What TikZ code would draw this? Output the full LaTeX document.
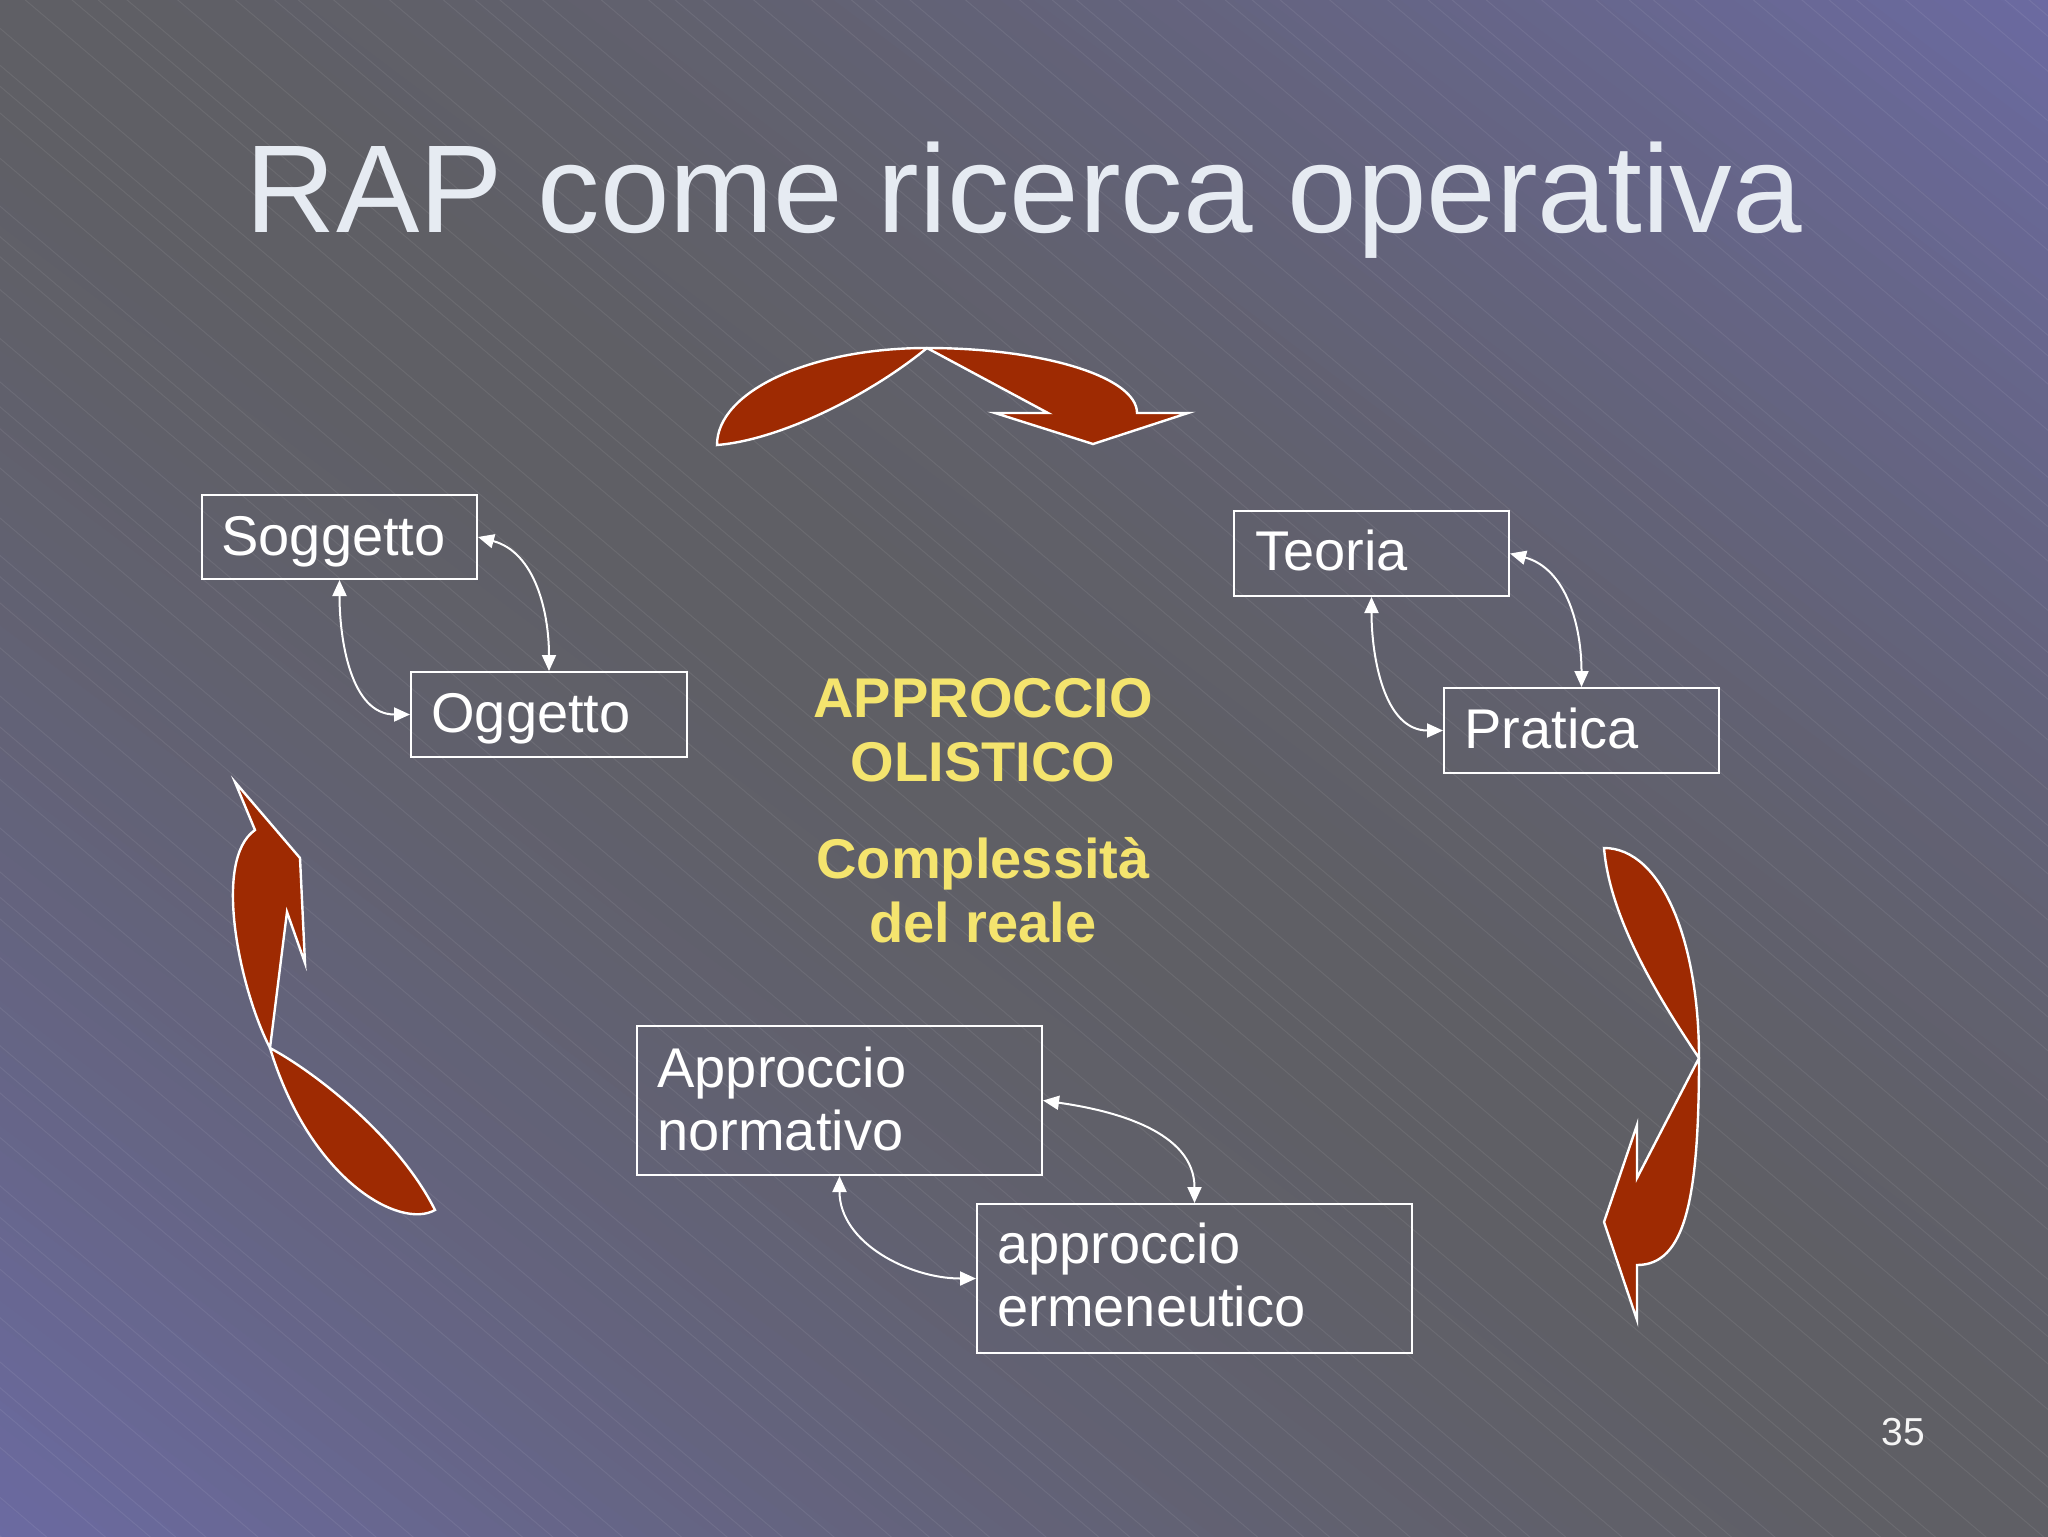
\documentclass[tikz,border=0pt]{standalone}
\usepackage{fontspec}
\setmainfont{Liberation Sans}
\usetikzlibrary{arrows.meta}
\definecolor{bggray}{HTML}{5F5F65}
\definecolor{bgpurple}{HTML}{6B6AA2}
\definecolor{arrowred}{HTML}{9E2A02}
\definecolor{titlecol}{HTML}{E6EBF2}
\definecolor{olicol}{HTML}{F4E46E}
\tikzset{
  boxnode/.style={draw=white, line width=1pt, inner sep=0pt, anchor=north west},
  boxtext/.style={text=white, inner sep=0pt, anchor=base west, font=\fontsize{28}{31.5}\selectfont},
  olitext/.style={text=olicol, inner sep=0pt, anchor=base, font=\bfseries\fontsize{28}{32}\selectfont},
  conn/.style={draw=white, line width=1pt, {Triangle[length=8pt,width=7pt]}-{Triangle[length=8pt,width=7pt]}},
  bigarrow/.style={fill=arrowred, draw=white, line width=1.2pt, line join=miter},
  bgline/.style={draw=white, opacity=0.07, line width=0.5pt},
}
\begin{document}
\begin{tikzpicture}[x=0.5pt, y=-0.5pt]
\useasboundingbox (0,0) rectangle (2048,1536);
% background gradient (diagonal)
\begin{scope}
\clip (0,0) rectangle (2048,1536);
\foreach \k in {0,...,127} {
  \pgfmathsetmacro{\d}{-1280+20*\k}
  \pgfmathsetmacro{\dd}{\d+21}
  \pgfmathtruncatemacro{\t}{min(100,100*(abs(\d+10)/1229)^1.6)}
  \fill[bgpurple!\t!bggray] ({1024+0.6*(\d)-1200},{768-0.8*(\d)-900}) -- ({1024+0.6*(\d)+1200},{768-0.8*(\d)+900}) -- ({1024+0.6*(\dd)+1200},{768-0.8*(\dd)+900}) -- ({1024+0.6*(\dd)-1200},{768-0.8*(\dd)-900}) -- cycle;
}
\foreach \i in {0,...,95} {
  \pgfmathsetmacro{\c}{-1800+35*\i+12*sin(\i*77)}
  \draw[bgline] (-50,{\c-42.5}) -- (2100,{\c+1785});
}
\end{scope}

% title
\node[anchor=base, text=titlecol, font=\fontsize{62.5}{75}\selectfont, inner sep=0pt] (title) at (1024,232) {RAP come ricerca operativa};

% boxes
\node[boxnode, minimum width=137.5pt, minimum height=42pt] (sog) at (201,494) {};
\node[boxnode, minimum width=138pt, minimum height=42.5pt] (ogg) at (410,671) {};
\node[boxnode, minimum width=137.5pt, minimum height=42.5pt] (teo) at (1233,510) {};
\node[boxnode, minimum width=137.5pt, minimum height=42.5pt] (pra) at (1443,687) {};
\node[boxnode, minimum width=202.5pt, minimum height=74.5pt] (nor) at (636,1025) {};
\node[boxnode, minimum width=217.5pt, minimum height=74.5pt] (erm) at (976,1203) {};

% box texts
\node[boxtext] (sogt) at (221,555) {Soggetto};
\node[boxtext] (oggt) at (431,732) {Oggetto};
\node[boxtext] (teot) at (1255,570) {Teoria};
\node[boxtext] (prat) at (1464,748) {Pratica};
\node[boxtext] (nort) at (657,1087) {\begin{tabular}[t]{@{}l@{}}Approccio\\normativo\end{tabular}};
\node[boxtext] (ermt) at (997,1263) {\begin{tabular}[t]{@{}l@{}}approccio\\ermeneutico\end{tabular}};

% center text
\node[olitext] (oli) at (983,717) {\begin{tabular}[t]{@{}c@{}}APPROCCIO\\OLISTICO\end{tabular}};
\node[olitext] (comp) at (983,878) {\begin{tabular}[t]{@{}c@{}}Complessità\\del reale\end{tabular}};

% connectors
\draw[conn] (sog.east) to[out=-15,in=90] (ogg.north);
\draw[conn] (sog.south) to[out=-90,in=180] (ogg.west);
\draw[conn] (teo.east) to[out=-15,in=90] (pra.north);
\draw[conn] (teo.south) to[out=-90,in=180] (pra.west);
\draw[conn] (nor.east) to[out=-8,in=90] (erm.north);
\draw[conn] (nor.south) to[out=-90,in=180] (erm.west);

% big red curved arrows
\filldraw[bigarrow] (717,445) .. controls (717,391) and (811,348) .. (927,348) .. controls (1043,348) and (1137,377) .. (1137,413) -- (1188,413) -- (1093,444) -- (995,413) -- (1048,413) -- (927,348) .. controls (870,395) and (780,440) .. (717,445) -- cycle;
\filldraw[bigarrow] (1604,848) .. controls (1662,848) and (1699,942) .. (1699,1058) .. controls (1699,1200) and (1685,1265) .. (1637,1265) -- (1637,1320) -- (1604,1222) -- (1637,1125) -- (1637,1178) -- (1699,1058) .. controls (1660,1000) and (1610,920) .. (1604,848) -- cycle;
\filldraw[bigarrow] (435,1210) .. controls (400,1230) and (310,1180) .. (270,1048) .. controls (240,990) and (212,860) .. (255,830) -- (235,782) -- (300,858) -- (305,963) -- (287,912) -- (270,1048) .. controls (320,1075) and (400,1140) .. (435,1210) -- cycle;

% page number
\node[anchor=base, text=white!92!gray, font=\fontsize{19.5}{23}\selectfont, inner sep=0pt] (pnum) at (1903,1445) {35};
\end{tikzpicture}
\end{document}
